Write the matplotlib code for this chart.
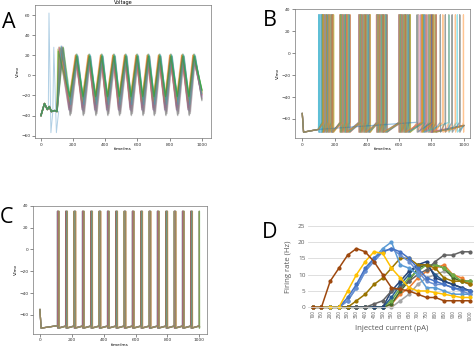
# Voltage traces from the model (A-C) and the f-I curves (D)

import matplotlib
matplotlib.use("Agg")
import matplotlib.pyplot as plt

# ---- panel A: start transient shared by the traces, then the oscillation
a_start_t = [0, 22, 40, 52, 65, 85, 100]
a_start_v = [-40, -28, -34, -31, -36, -35, -36]
# one trace fires two early spikes before settling
a_blip_t = [0, 22, 40, 46, 50, 62, 74, 80, 96, 110]
a_blip_v = [-40, -28, -34, -32, 62, -57, -36, 28, -57, -36]
a_first_t = [112, 118, 124, 130, 105, 135, 128, 140, 120, 138, 115, 126, 133, 108]
a_first_v = [28, 28, 27, 29, 26, 28, 28, 27, 25, 28, 27, 29, 26, 24]
a_trough_t = [180, 262, 340, 414, 487, 560, 633, 703, 775, 848, 920]
a_peak_t = [222, 301, 378, 454, 527, 598, 668, 738, 808, 882, 952]
a_shift = [-6, 4, -2, 6, 0, 8, -4, 2, -8, 3, -3, 5, 1, -1]
a_top = [20, 19, 21, 18, 20, 19, 18, 21, 20, 19, 17, 20, 18, 19]
a_low = [-34, -30, -22, -36, -28, -38, -32, -40, -26, -24, -35, -29, -39, -21]
a_end_v = [-20, -18, -15, -22, -17, -25, -19, -24, -16, -15, -21, -18, -23, -14]
a_color = [5, 1, 2, 6, 8, 7, 3, 7, 1, 2, 4, 9, 7, 2]

# ---- panel B: spike times (ms) for each trace
b_spikes = [
    [101, 106, 111, 116, 121, 150, 185, 236, 270, 354, 395, 464, 500, 602, 640, 745, 790],
    [124, 192, 231, 296, 349, 420, 459, 524, 597, 668, 711, 740, 770, 800, 830,
     855, 886, 907, 928, 948, 975, 998],
    [126, 146, 166, 186, 238, 258, 278, 356, 376, 396, 416, 466, 486, 506, 604,
     624, 644, 664, 750, 780, 810],
    [130, 152, 174, 242, 264, 286, 360, 382, 404, 470, 492, 514, 608, 630, 652, 755, 795],
    [134, 156, 178, 246, 268, 290, 364, 386, 408, 474, 496, 518, 612, 634, 656, 760, 800, 825],
    [138, 160, 182, 250, 272, 294, 368, 390, 412, 478, 500, 522, 616, 638, 660,
     720, 765, 805, 828],
    [142, 164, 188, 254, 276, 352, 374, 398, 418, 462, 484, 508, 600, 620, 648, 730, 775],
    [123, 144, 168, 190, 234, 256, 280, 350, 372, 394, 416, 460, 482, 504, 526,
     598, 620, 642, 666, 735, 785, 815],
    [128, 150, 172, 194, 240, 262, 284, 358, 380, 402, 421, 468, 490, 512, 606,
     628, 650, 669, 745, 790, 820],
    [103, 118, 136, 158, 180, 244, 266, 288, 362, 384, 406, 472, 494, 516, 610,
     632, 654, 755, 908, 960],
    [711, 803, 855, 886, 928, 975],
    [132, 162, 184, 248, 274, 366, 388, 476, 498, 614, 636, 740, 810, 870],
]
b_start_t = [0, 8, 100]
b_start_v = [-55, -72, -69.5]

# ---- panel C: regular firing, same spike times with a small lag per trace
c_spikes = [109, 161, 213, 266, 318, 370, 423, 475, 527, 579, 632, 684, 736,
            789, 841, 893, 945, 998]
c_lag = [0, 1, 2, 3, 4, 5, 6, 7, 8, 9, 10, 11]
c_start_t = [0, 8, 100]
c_start_v = [-55, -72, -70]

# ---- panel D: firing rate vs injected current
d_current = [100, 150, 200, 250, 300, 350, 400, 450, 500, 550, 600, 650, 700,
             750, 800, 850, 900, 950, 1000]
d_rates = {
    "#A5A5A5": [0, 0, 0, 0, 0, 0, 0, 0, 0, 0, 2, 4, 7, 9, 10, 11, 10, 8, 7],
    "#ED7D31": [0, 0, 0, 0, 0, 0, 0, 0, 0, 1, 4, 6, 9, 11, 12, 13, 10, 9, 7],
    "#43682B": [0, 0, 0, 0, 0, 0, 0, 0, 0, 1, 5, 8, 12, 13, 13, 12, 9, 8, 8],
    "#70AD47": [0, 0, 0, 0, 0, 0, 0, 0, 0, 2, 6, 9, 11, 13, 13, 12, 10, 8, 8],
    "#255E91": [0, 0, 0, 0, 0, 0, 0, 0, 0, 3, 7, 10, 13, 13, 10, 8, 7, 6, 5],
    "#264478": [0, 0, 0, 0, 0, 0, 0, 0, 0, 5, 8, 11, 13, 14, 9, 8, 7, 6, 5],
    "#636363": [0, 0, 0, 0, 0, 0, 0, 1, 2, 5, 6, 8, 10, 11.5, 14, 16, 16, 17, 17],
    "#997300": [0, 0, 0, 0, 0, 2, 4, 7, 9, 12, 15, 15, 13, 13, 12, 9, 8, 8, 7],
    "#5B9BD5": [0, 0, 0, 0, 2, 6, 11, 15, 18, 20, 13, 12, 10, 6, 6, 5, 4, 4, 4],
    "#698ED0": [0, 0, 0, 0, 2, 6, 11, 14, 17, 18, 16, 14, 11, 8, 7, 7, 6, 5, 4],
    "#4472C4": [0, 0, 0, 0, 3, 7, 12, 15, 17, 18, 17, 15, 12, 9, 8, 7, 6, 5.5, 5],
    "#FFC000": [0, 0, 0, 0, 5, 10, 14, 17, 16.5, 12, 9, 6, 5, 5, 4.5, 4, 3.5, 3, 3],
    "#9E480E": [0, 0, 8, 12, 16, 18, 17, 14, 10, 6, 5.5, 5, 4, 3, 3, 2, 2, 2, 2],
}

tab = plt.rcParams["axes.prop_cycle"].by_key()["color"]


def main():
    make_plot()


def style_trace_axes(ax):
    for sp in ax.spines.values():
        sp.set_color("#777777")
        sp.set_linewidth(0.5)
    ax.tick_params(labelsize=3.2, length=2, width=0.4, pad=1.2,
                   colors="#333333")
    ax.set_xticks([0, 200, 400, 600, 800, 1000])
    ax.set_xlabel("time/ms", fontsize=3.2, labelpad=0.5)
    ax.set_ylabel("V/mv", fontsize=3.2, labelpad=1)


def spike_trace(spikes, start_t, start_v, rest, low, end_v):
    t = list(start_t)
    v = list(start_v)
    for s in spikes:
        t += [s, s + 0.6, s + 1.6]
        v += [rest, 35, low]
    t.append(1000)
    v.append(end_v)
    return t, v


def make_plot():
    fig = plt.figure(figsize=(4.74, 3.48), dpi=100)

    # A
    ax = fig.add_axes([0.0738, 0.6026, 0.3707, 0.3822])
    ax.plot(a_blip_t, a_blip_v, color=tab[0], alpha=0.35, lw=0.7)
    for i in range(len(a_shift)):
        t = list(a_start_t) + [a_first_t[i]]
        v = list(a_start_v) + [a_first_v[i]]
        for tr, pk in zip(a_trough_t, a_peak_t):
            t += [tr + a_shift[i], pk + a_shift[i]]
            v += [a_low[i], a_top[i]]
        t.append(1000)
        v.append(a_end_v[i])
        ax.plot(t, v, color=tab[a_color[i]], alpha=0.5, lw=1.0)
    ax.set_xlim(-37, 1055)
    ax.set_ylim(-62.6, 69.7)
    ax.set_yticks([-60, -40, -20, 0, 20, 40, 60])
    style_trace_axes(ax)
    ax.set_title("Voltage", fontsize=3.6, pad=1)

    # B
    ax = fig.add_axes([0.6217, 0.6026, 0.3705, 0.3707])
    for i, spikes in enumerate(b_spikes):
        t, v = spike_trace(spikes, b_start_t, b_start_v, -63, -72, -66)
        ax.plot(t, v, color=tab[i % 10], alpha=0.45, lw=0.9)
    ax.set_xlim(-47, 1041)
    ax.set_ylim(-77.6, 40)
    ax.set_yticks([-60, -40, -20, 0, 20, 40])
    style_trace_axes(ax)

    # C
    ax = fig.add_axes([0.069, 0.0402, 0.3684, 0.3687])
    for i, lag in enumerate(c_lag):
        t, v = spike_trace([s + lag for s in c_spikes if s + lag <= 1000],
                           c_start_t, c_start_v, -70, -72, -70)
        ax.plot(t, v, color=tab[i % 10], alpha=0.45, lw=0.9)
    ax.set_xlim(-45, 1050)
    ax.set_ylim(-77.4, 40)
    ax.set_yticks([-60, -40, -20, 0, 20, 40])
    style_trace_axes(ax)

    # D
    ax = fig.add_axes([0.6504, 0.1170, 0.351, 0.2345])
    x = list(range(len(d_current)))
    for color, rate in d_rates.items():
        ax.plot(x, rate, color=color, lw=1.1, marker="o", markersize=2.0,
                clip_on=False)
    ax.set_xlim(-0.5, len(d_current) - 0.5)
    ax.set_ylim(0, 25)
    ax.set_yticks([0, 5, 10, 15, 20, 25])
    ax.yaxis.grid(True, color="#D9D9D9", lw=0.6)
    ax.set_axisbelow(True)
    for name in ["top", "right", "left"]:
        ax.spines[name].set_visible(False)
    ax.spines["bottom"].set_color("#D9D9D9")
    ax.spines["bottom"].set_linewidth(0.6)
    ax.set_xticks(x)
    ax.set_xticklabels([str(c) for c in d_current], rotation=90,
                       fontsize=3.3, family="Open Sans")
    ax.tick_params(axis="both", length=0, colors="#595959", pad=2)
    ax.tick_params(axis="y", labelsize=4.6)
    for lab in ax.get_yticklabels():
        lab.set_family("Open Sans")
    ax.set_xlabel("Injected current (pA)", fontsize=5.6, color="#595959",
                  family="Open Sans", labelpad=3)
    ax.set_ylabel("Firing rate (Hz)", fontsize=5.6, color="#595959",
                  family="Open Sans", labelpad=4)

    # panel letters
    for letter, px, py in [("A", 2, 28), ("B", 263, 26), ("C", 0, 223), ("D", 262, 238)]:
        fig.text(px / 474, 1 - py / 348, letter, fontsize=15.5,
                 family="Open Sans", color="black")

    plt.savefig("out.png", dpi=100)
    plt.close()


if __name__ == "__main__":
    main()
